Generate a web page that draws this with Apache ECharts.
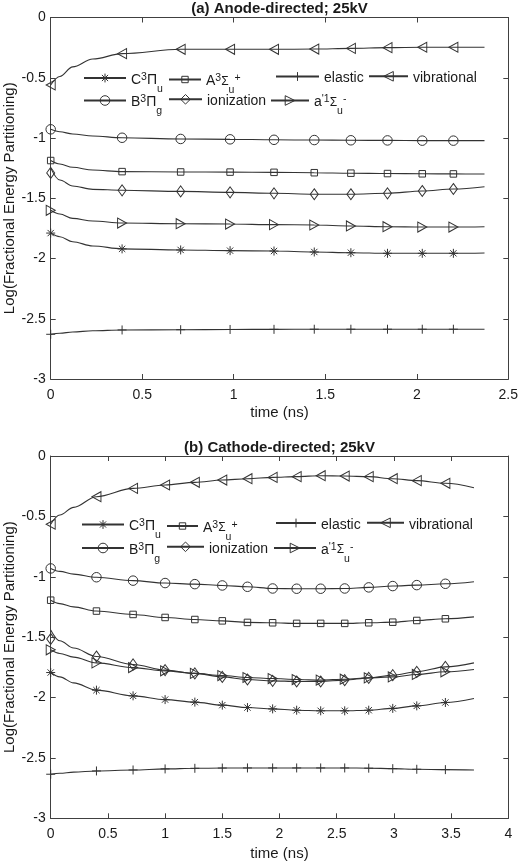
<!DOCTYPE html>
<html><head><meta charset="utf-8">
<script src="https://cdn.jsdelivr.net/npm/echarts@6/dist/echarts.min.js"></script>
<style>html,body{margin:0;padding:0;background:#fff}#c{width:520px;height:864px}</style>
</head><body><div id="c"></div>
<script>
// ---------- data ----------
const seriesNames = ['C3Pu', 'A3Su', 'elastic', 'vibrational', 'B3Pg', 'ionization', 'a1Su'];
const xTicksA = [0, 0.5, 1, 1.5, 2, 2.5];
const xTicksB = [0, 0.5, 1, 1.5, 2, 2.5, 3, 3.5, 4];
const yTicks = [-3, -2.5, -2, -1.5, -1, -0.5, 0];

// panel (a) anode-directed
const timeA = [0, 0.05, 0.12, 0.23, 0.39, 0.71, 0.98, 1.22, 1.44, 1.64, 1.84, 2.03, 2.2, 2.37];
const markA = [1, 0, 0, 0, 1, 1, 1, 1, 1, 1, 1, 1, 1, 0];
const cA   = [-1.789, -1.819, -1.861, -1.896, -1.920, -1.929, -1.935, -1.938, -1.946, -1.952, -1.957, -1.957, -1.957, -1.954];
const aA   = [-1.187, -1.216, -1.243, -1.266, -1.279, -1.282, -1.283, -1.285, -1.288, -1.292, -1.295, -1.297, -1.298, -1.299];
const elA  = [-2.629, -2.620, -2.610, -2.600, -2.593, -2.591, -2.589, -2.588, -2.587, -2.587, -2.587, -2.587, -2.587, -2.587];
const vibA = [-0.560, -0.490, -0.410, -0.345, -0.300, -0.264, -0.264, -0.264, -0.262, -0.256, -0.250, -0.247, -0.247, -0.247];
const bA   = [-0.928, -0.948, -0.967, -0.983, -0.998, -1.008, -1.011, -1.015, -1.017, -1.019, -1.020, -1.022, -1.022, -1.022];
const ionA = [-1.250, -1.349, -1.398, -1.426, -1.434, -1.443, -1.451, -1.459, -1.467, -1.467, -1.459, -1.440, -1.423, -1.404];
const ionStartA = -1.29;
const apA  = [-1.600, -1.631, -1.667, -1.689, -1.706, -1.711, -1.714, -1.719, -1.722, -1.730, -1.736, -1.739, -1.739, -1.736];

// panel (b) cathode-directed
const timeB = [0, 0.08, 0.2, 0.4, 0.72, 1.0, 1.26, 1.5, 1.72, 1.94, 2.15, 2.36, 2.57, 2.78, 2.99, 3.2, 3.45, 3.7];
const markB = [1, 0, 0, 1, 1, 1, 1, 1, 1, 1, 1, 1, 1, 1, 1, 1, 1, 0];
const cB   = [-1.793, -1.829, -1.879, -1.939, -1.986, -2.017, -2.038, -2.063, -2.083, -2.094, -2.105, -2.110, -2.110, -2.105, -2.090, -2.069, -2.041, -2.008];
const aB   = [-1.194, -1.222, -1.249, -1.284, -1.312, -1.337, -1.354, -1.365, -1.378, -1.381, -1.386, -1.386, -1.386, -1.381, -1.376, -1.362, -1.348, -1.332];
const elB  = [-2.635, -2.627, -2.618, -2.608, -2.600, -2.591, -2.586, -2.584, -2.583, -2.583, -2.583, -2.583, -2.583, -2.585, -2.589, -2.594, -2.597, -2.600];
const vibB = [-0.565, -0.489, -0.425, -0.337, -0.268, -0.240, -0.218, -0.199, -0.188, -0.177, -0.171, -0.163, -0.166, -0.171, -0.188, -0.204, -0.226, -0.263];
const bB   = [-0.931, -0.955, -0.978, -1.004, -1.032, -1.052, -1.061, -1.072, -1.083, -1.097, -1.099, -1.099, -1.097, -1.088, -1.077, -1.069, -1.058, -1.041];
const ionB = [-1.440, -1.530, -1.590, -1.660, -1.726, -1.773, -1.800, -1.829, -1.851, -1.862, -1.867, -1.867, -1.856, -1.837, -1.815, -1.787, -1.746, -1.713];
const ionStartB = -1.515;
const apB  = [-1.605, -1.635, -1.665, -1.713, -1.752, -1.779, -1.800, -1.818, -1.834, -1.843, -1.851, -1.856, -1.848, -1.837, -1.829, -1.809, -1.787, -1.768];

// ---------- styling ----------
const FONT = '"Liberation Sans", Arial, Helvetica, sans-serif';
const AX = '#404040', LN = '#333333', TX = '#1a1a1a';
const STAR = 'path://M5,0L5,10M0,5L10,5M1.5,1.5L8.5,8.5M1.5,8.5L8.5,1.5';
const PLUS = 'path://M5,0L5,10M0,5L10,5';
const symCfg = {
  C3Pu:        {symbol: STAR, size: 9, rot: 0, lh: 11},
  A3Su:        {symbol: 'rect', size: 6.5, rot: 0, lh: 8},
  elastic:     {symbol: PLUS, size: 9, rot: 0, lh: 11},
  vibrational: {symbol: 'triangle', size: [10, 9], rot: 90, lh: 12},
  B3Pg:        {symbol: 'circle', size: 9.5, rot: 0, lh: 12},
  ionization:  {symbol: 'diamond', size: [8, 11], rot: 0, lh: 12},
  a1Su:        {symbol: 'triangle', size: [10, 9], rot: -90, lh: 12}
};
const labelMap = {
  C3Pu: '{m|C}{sp|3}{m|Π}{sb|u}',
  A3Su: '{m|A}{sp|3}{g|Σ}{sb|u}{sp|+}',
  elastic: '{m|elastic}{sb| }',
  vibrational: '{m|vibrational}{sb| }',
  B3Pg: '{m|B}{sp|3}{m|Π}{sb|g}',
  ionization: '{m|ionization}{sb| }',
  a1Su: "{m|a}{sp|'1}{g|Σ}{sb|u}{sp|-}"
};
const rich = {
  m:  {fontSize: 14, padding: [4, 0, 0, 0], fontFamily: FONT, color: TX},
  g:  {fontSize: 12, padding: [4, 0, 0, 0], fontFamily: FONT, color: TX},
  sp: {fontSize: 10.5, padding: [0, 0, 2, 0], fontFamily: FONT, color: TX},
  sb: {fontSize: 10.5, padding: [22, 0, 0, 0], fontFamily: FONT, color: TX}
};

function axisCommon() {
  return {
    axisLine: {show: true, onZero: false, lineStyle: {color: AX, width: 1}},
    axisTick: {show: true, inside: true, length: 5, lineStyle: {color: AX, width: 1}},
    splitLine: {show: false}
  };
}
function xAxes(gi, ticks) {
  const mx = ticks[ticks.length - 1];
  return [
    Object.assign(axisCommon(), {
      type: 'value', gridIndex: gi, min: ticks[0], max: mx, interval: 0.5, position: 'bottom',
      axisLabel: {show: true, margin: 9, fontSize: 14, color: TX, fontFamily: FONT},
      name: 'time (ns)', nameLocation: 'middle', nameGap: gi === 0 ? 26 : 28, nameMoveOverlap: false,
      nameTextStyle: {fontSize: 15, color: TX, fontFamily: FONT}
    }),
    Object.assign(axisCommon(), {
      type: 'value', gridIndex: gi, min: ticks[0], max: mx, interval: 0.5, position: 'top',
      axisLabel: {show: false}
    })
  ];
}
function yAxes(gi) {
  return [
    Object.assign(axisCommon(), {
      type: 'value', gridIndex: gi, min: yTicks[0], max: yTicks[yTicks.length - 1], interval: 0.5, position: 'left',
      axisLabel: {show: true, margin: 5, fontSize: 14, color: TX, fontFamily: FONT},
      name: 'Log(Fractional Energy Partitioning)', nameLocation: 'middle', nameGap: 33, nameMoveOverlap: false,
      nameTextStyle: {fontSize: 15, color: TX, fontFamily: FONT}
    }),
    Object.assign(axisCommon(), {
      type: 'value', gridIndex: gi, min: yTicks[0], max: yTicks[yTicks.length - 1], interval: 0.5, position: 'right',
      axisLabel: {show: false}
    })
  ];
}

function mkSeries(name, times, marks, vals, axisIdx, startMarker) {
  const cfg = symCfg[name];
  const data = times.map((t, i) => {
    const show = marks[i] && !(i === 0 && startMarker !== undefined);
    return show ? [t, vals[i]] : {value: [t, vals[i]], symbol: 'none'};
  });
  const s = {
    type: 'line', name: name, xAxisIndex: axisIdx, yAxisIndex: axisIdx, data: data,
    symbol: cfg.symbol, symbolSize: cfg.size, symbolRotate: cfg.rot,
    showSymbol: true, showAllSymbol: true, clip: false,
    smooth: 0.35, smoothMonotone: 'x',
    lineStyle: {color: LN, width: 1.1},
    itemStyle: {color: 'rgba(255,255,255,0)', borderColor: LN, borderWidth: 1},
    emphasis: {disabled: true}, silent: true
  };
  if (startMarker !== undefined) {
    s.markPoint = {
      symbol: cfg.symbol, symbolSize: cfg.size, silent: true, animation: false,
      label: {show: false},
      itemStyle: {color: 'rgba(255,255,255,0)', borderColor: LN, borderWidth: 1},
      data: [{coord: [times[0], startMarker]}]
    };
  }
  return s;
}

const panelA = {C3Pu: cA, A3Su: aA, elastic: elA, vibrational: vibA, B3Pg: bA, ionization: ionA, a1Su: apA};
const panelB = {C3Pu: cB, A3Su: aB, elastic: elB, vibrational: vibB, B3Pg: bB, ionization: ionB, a1Su: apB};
const series = [];
seriesNames.forEach(n => series.push(mkSeries(n, timeA, markA, panelA[n], 0, n === 'ionization' ? ionStartA : undefined)));
seriesNames.forEach(n => series.push(mkSeries(n, timeB, markB, panelB[n], 2, n === 'ionization' ? ionStartB : undefined)));

// legend item placement: [name, left, iconCenterY, itemWidth]
const legendSlots = [
  ['C3Pu', 83, 77, 42], ['A3Su', 168, 77, 32], ['elastic', 275, 77, 43], ['vibrational', 368, 77, 39],
  ['B3Pg', 83, 100, 42], ['ionization', 168, 100, 33], ['a1Su', 270, 100, 38],
  ['C3Pu', 81, 523.5, 42], ['A3Su', 166, 523.5, 31], ['elastic', 275, 523.5, 40], ['vibrational', 366, 523.5, 37],
  ['B3Pg', 81, 547.5, 42], ['ionization', 166, 547.5, 37], ['a1Su', 273, 547.5, 42]
];
const legends = legendSlots.map(s => ({
  data: [s[0]], left: s[1], top: s[2] - symCfg[s[0]].lh / 2, itemWidth: s[3], itemHeight: symCfg[s[0]].lh,
  padding: 0, itemGap: 0, selectedMode: false, orient: 'horizontal',
  formatter: n => labelMap[n],
  textStyle: {fontSize: 14, fontFamily: FONT, color: TX, rich: rich},
  itemStyle: {borderWidth: 1}
}));

const chart = echarts.init(document.getElementById('c'), null, {renderer: 'canvas'});
chart.setOption({
  animation: false,
  backgroundColor: '#fff',
  textStyle: {fontFamily: FONT},
  grid: [
    {left: 50.7, top: 17.5, width: 457.6, height: 361.5, containLabel: false, outerBoundsMode: 'none'},
    {left: 50.7, top: 456, width: 457.6, height: 362.3, containLabel: false, outerBoundsMode: 'none'}
  ],
  xAxis: [].concat(xAxes(0, xTicksA), xAxes(1, xTicksB)),
  yAxis: [].concat(yAxes(0), yAxes(1)),
  legend: legends,
  graphic: [
    {type: 'text', x: 279.5, y: 9, silent: true,
     style: {text: '(a) Anode-directed; 25kV', align: 'center', verticalAlign: 'middle', textAlign: 'center', textVerticalAlign: 'middle',
             font: 'bold 15px ' + FONT, fill: TX}},
    {type: 'text', x: 279.5, y: 448, silent: true,
     style: {text: '(b) Cathode-directed; 25kV', align: 'center', verticalAlign: 'middle', textAlign: 'center', textVerticalAlign: 'middle',
             font: 'bold 15px ' + FONT, fill: TX}}
  ],
  series: series
});
</script>
</body></html>
